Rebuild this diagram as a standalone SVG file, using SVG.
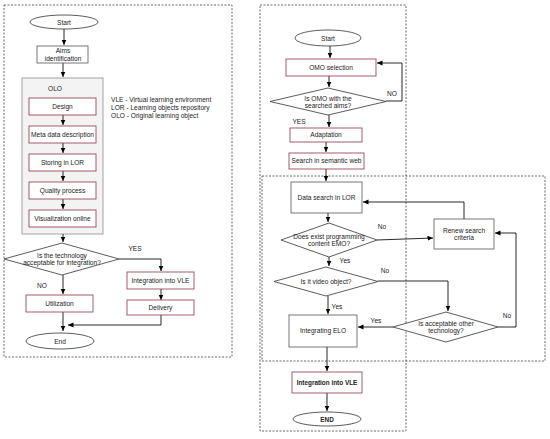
<svg xmlns="http://www.w3.org/2000/svg" width="550" height="439" viewBox="0 0 550 439">
<defs>
<marker id="ah" markerUnits="userSpaceOnUse" markerWidth="6" markerHeight="6" refX="5.5" refY="3" orient="auto"><path d="M0,0.5 L5.5,3 L0,5.5 z" fill="#000"/></marker>
<style>
text{font-family:"Liberation Sans",Arial,sans-serif;font-size:6.6px;fill:#222;text-anchor:middle}
.lg{text-anchor:start}
.b{font-weight:bold;font-size:6.4px}
.frame{fill:none;stroke:#444;stroke-width:0.8;stroke-dasharray:2,1.5}
.rb{fill:#fff;stroke:#9a4a5e;stroke-width:0.9}
.gb{fill:#fff;stroke:#555;stroke-width:0.8}
.el{fill:#fff;stroke:#333;stroke-width:0.8}
.cont{fill:#f3f3f3;stroke:#999;stroke-width:0.9}
.ca{fill:none;stroke:#111;stroke-width:0.9;marker-end:url(#ah)}
</style>
</defs>
<rect class="frame" x="4" y="5" width="228" height="352"/>
<rect class="frame" x="260" y="5" width="146" height="426"/>
<rect class="frame" x="262" y="176" width="283" height="185"/>

<g id="olo"><rect class="cont" x="22" y="78" width="81" height="156"/><text x="55" y="91">OLO</text></g>

<g id="connectors">
<line class="ca" x1="64" y1="29" x2="64" y2="45"/>
<line class="ca" x1="63" y1="63" x2="63" y2="77"/>
<line class="ca" x1="63" y1="115" x2="63" y2="125"/>
<line class="ca" x1="63" y1="143" x2="63" y2="153"/>
<line class="ca" x1="63" y1="171" x2="63" y2="181"/>
<line class="ca" x1="63" y1="199" x2="63" y2="209"/>
<line class="ca" x1="63" y1="234" x2="63" y2="242"/>
<polyline class="ca" points="119,259 161,259 161,271"/>
<line class="ca" x1="161" y1="289" x2="161" y2="300"/>
<line class="ca" x1="63" y1="275" x2="63" y2="294"/>
<line class="ca" x1="63" y1="312" x2="63" y2="331"/>
<polyline class="ca" points="161,315 161,325 68,325"/>

<line class="ca" x1="330" y1="46" x2="330" y2="58"/>
<line class="ca" x1="329" y1="76" x2="329" y2="87"/>
<polyline class="ca" points="386,101 402,101 402,63 377,63"/>
<line class="ca" x1="329" y1="115" x2="329" y2="127"/>
<line class="ca" x1="326" y1="142" x2="326" y2="152"/>
<line class="ca" x1="326" y1="169" x2="326" y2="181"/>
<line class="ca" x1="328" y1="213" x2="328" y2="222"/>
<line class="ca" x1="377" y1="240" x2="433" y2="238"/>
<polyline class="ca" points="464,219 464,202 363,202"/>
<line class="ca" x1="329" y1="257" x2="329" y2="266"/>
<polyline class="ca" points="378,281 448,281 448,311"/>
<line class="ca" x1="328" y1="296" x2="328" y2="314"/>
<line class="ca" x1="393" y1="327" x2="358" y2="327"/>
<polyline class="ca" points="498,327 516,327 516,233 495,233"/>
<line class="ca" x1="327" y1="347" x2="327" y2="371"/>
<line class="ca" x1="327" y1="393" x2="327" y2="411"/>
</g>

<g id="edge-labels">
<text x="135" y="251">YES</text>
<text x="42" y="288">NO</text>
<text x="392" y="96">NO</text>
<text x="299" y="124">YES</text>
<text x="382" y="229">No</text>
<text x="345" y="263">Yes</text>
<text x="385" y="273">No</text>
<text x="337" y="309">Yes</text>
<text x="376" y="323">Yes</text>
<text x="507" y="318">No</text>
</g>

<g id="legend">
<text class="lg" x="111" y="102">VLE - Virtual learning environment</text>
<text class="lg" x="111" y="110">LOR - Learning objects repository</text>
<text class="lg" x="111" y="118">OLO - Original learning object</text>
</g>

<g id="start-left"><ellipse class="el" cx="64" cy="22" rx="34" ry="7"/><text x="64" y="24.5">Start</text></g>
<g id="aims"><rect class="gb" x="37" y="46" width="51" height="17"/><text x="63" y="53">Aims</text><text x="63" y="60.5">identification</text></g>
<g id="design"><rect class="rb" x="29" y="98" width="67" height="17"/><text x="62.5" y="108.8">Design</text></g>
<g id="meta"><rect class="rb" x="29" y="126" width="67" height="17"/><text x="62.5" y="136.8">Meta data description</text></g>
<g id="storing"><rect class="rb" x="29" y="154" width="67" height="17"/><text x="62.5" y="164.8">Storing in LOR</text></g>
<g id="quality"><rect class="rb" x="29" y="182" width="67" height="17"/><text x="62.5" y="192.8">Quality process</text></g>
<g id="visual"><rect class="rb" x="29" y="210" width="67" height="17"/><text x="62.5" y="220.8">Visualization online</text></g>
<g id="tech-diamond"><polygon class="el" points="62,243 119,259 62,275 4,259"/><text x="62" y="257.5">Is the technology</text><text x="62" y="265">acceptable for integration?</text></g>
<g id="integration-left"><rect class="rb" x="127" y="272" width="67" height="17"/><text x="160.5" y="282.8">Integration into VLE</text></g>
<g id="delivery"><rect class="rb" x="127" y="300" width="67" height="15"/><text x="160.5" y="309.8">Delivery</text></g>
<g id="utilization"><rect class="rb" x="26" y="295" width="67" height="17"/><text x="59.5" y="305.8">Utilization</text></g>
<g id="end-left"><ellipse class="el" cx="60" cy="341" rx="34" ry="8"/><text x="60" y="343.5">End</text></g>

<g id="start-right"><ellipse class="el" cx="328" cy="38" rx="33" ry="8"/><text x="328" y="40.5">Start</text></g>
<g id="omo"><rect class="rb" x="286" y="59" width="90" height="17"/><text x="331" y="69.8">OMO selection</text></g>
<g id="omo-diamond"><polygon class="el" points="328,88 386,101.5 328,115 270,101.5"/><text x="328" y="100.5">Is OMO with the</text><text x="328" y="108">searched aims?</text></g>
<g id="adaptation"><rect class="rb" x="290" y="128" width="72" height="14"/><text x="326" y="137.3">Adaptation</text></g>
<g id="semantic"><rect class="rb" x="289" y="153" width="75" height="16"/><text x="326.5" y="163.3">Search in semantic web</text></g>
<g id="datasearch"><rect class="gb" x="291" y="182" width="71" height="31"/><text x="326.5" y="200">Data search in LOR</text></g>
<g id="renew"><rect class="gb" x="434" y="219" width="60" height="30"/><text x="464" y="232.5">Renew search</text><text x="464" y="240">criteria</text></g>
<g id="emo-diamond"><polygon class="el" points="329,223 377,240 329,257 281,240"/><text x="329" y="238.5">Does exist programming</text><text x="329" y="246">content EMO?</text></g>
<g id="video-diamond"><polygon class="el" points="326,267 378,281.5 326,296 274,281.5"/><text x="326" y="284">Is it video object?</text></g>
<g id="integrating-elo"><rect class="gb" x="289" y="315" width="68" height="32"/><text x="323" y="333.3">Integrating ELO</text></g>
<g id="other-diamond"><polygon class="el" points="446,312 498,327 446,342 393,327"/><text x="446" y="325.5">Is acceptable other</text><text x="446" y="333">technology?</text></g>
<g id="integration-right"><rect class="rb" x="292" y="372" width="70" height="21"/><text class="b" x="327" y="384.8">Integration into VLE</text></g>
<g id="end-right"><ellipse class="el" cx="327" cy="419" rx="34" ry="7"/><text class="b" x="327" y="421.5">END</text></g>
</svg>
